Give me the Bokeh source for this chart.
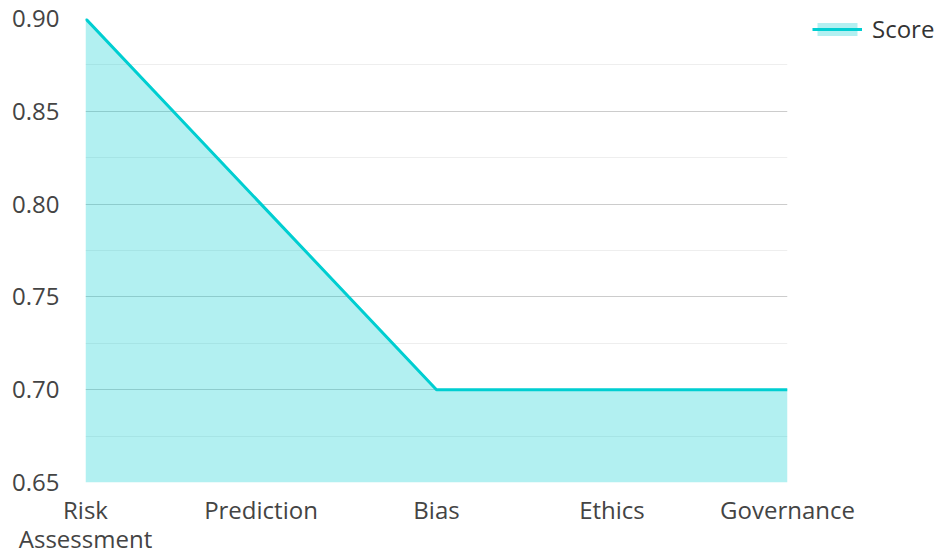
from bokeh.plotting import figure
from bokeh.models import FixedTicker, Legend, LegendItem, NumeralTickFormatter, Range1d
from bokeh.embed import file_html
from bokeh.resources import INLINE

categories = ["Risk\nAssessment", "Prediction", "Bias", "Ethics", "Governance"]
scores = [0.90, 0.80, 0.70, 0.70, 0.70]
y_ticks = [0.65, 0.70, 0.75, 0.80, 0.85, 0.90]
y_minor_ticks = [0.675, 0.725, 0.775, 0.825, 0.875]

xs = list(range(len(categories)))
FONT = "Open Sans"
FS = "24px"
COLOR = "#00CED1"

p = figure(frame_width=702, frame_height=464, output_backend="svg", toolbar_location=None,
           x_range=Range1d(0, len(categories) - 1), y_range=Range1d(0.65, 0.90),
           min_border_left=85, min_border_top=18, min_border_right=0, min_border_bottom=0)
p.outline_line_color = None
p.background_fill_color = "white"

area = p.varea(x=xs, y1=[0.65] * len(xs), y2=scores, fill_color=COLOR, fill_alpha=0.3)
line = p.line(x=xs, y=scores, line_color=COLOR, line_width=3)

p.xaxis.ticker = FixedTicker(ticks=xs)
p.xaxis.major_label_overrides = {i: c for i, c in enumerate(categories)}
p.yaxis.ticker = FixedTicker(ticks=y_ticks, minor_ticks=y_minor_ticks)
p.yaxis.formatter = NumeralTickFormatter(format="0.00")

for ax in (p.xaxis, p.yaxis):
    ax.axis_line_color = None
    ax.major_tick_line_color = None
    ax.minor_tick_line_color = None
    ax.major_label_text_font = FONT
    ax.major_label_text_font_size = FS
    ax.major_label_text_color = "#444444"
p.yaxis.major_label_standoff = 20
p.xaxis.major_label_standoff = 4
p.xaxis.major_label_text_line_height = 0.88

p.xgrid.grid_line_color = None
p.ygrid.grid_line_color = "#cccccc"
p.ygrid.grid_line_width = 1
p.ygrid.minor_grid_line_color = "#eeeeee"

legend = Legend(items=[LegendItem(label="Score", renderers=[area, line])],
                location=(25, 437), border_line_color=None, background_fill_alpha=0,
                padding=0, margin=0, glyph_width=50, glyph_height=16, label_standoff=10,
                label_text_font=FONT, label_text_font_size=FS, label_text_color="#333333")
p.add_layout(legend, "right")

open("out.html", "w").write(file_html(p, INLINE))
